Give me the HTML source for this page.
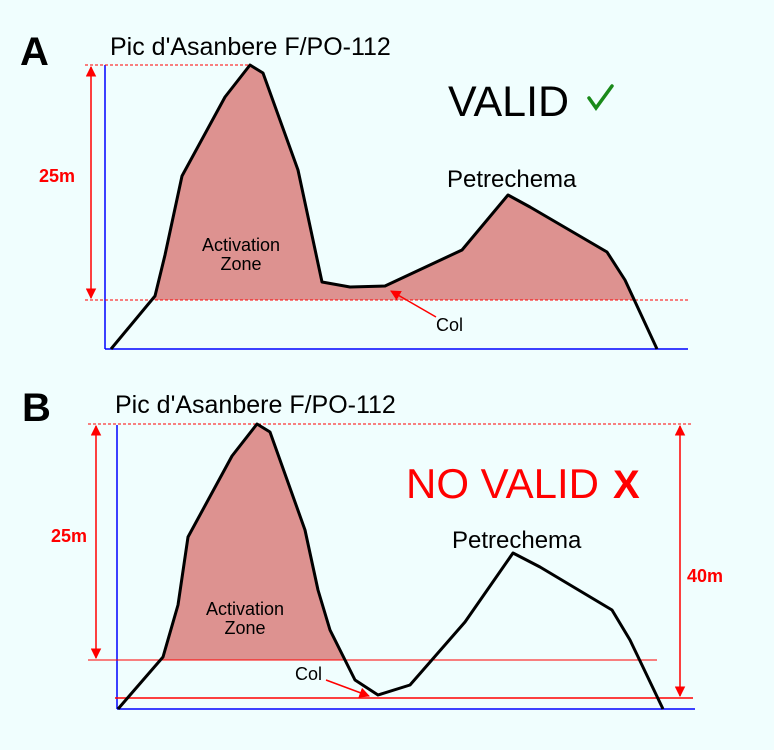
<!DOCTYPE html>
<html><head><meta charset="utf-8"><style>
html,body{margin:0;padding:0;background:#f0fefe;}
svg{display:block;font-family:"Liberation Sans",sans-serif;}
</style></head><body>
<svg id="c" width="774" height="750" viewBox="0 0 774 750">
<defs>
<marker id="ah" viewBox="0 0 10 10" refX="9" refY="5" markerWidth="7" markerHeight="7" orient="auto-start-reverse"><path d="M0,0L10,5L0,10z" fill="#f00"/></marker>
<clipPath id="clipA"><rect x="0" y="0" width="774" height="300"/></clipPath>
<clipPath id="clipB"><rect x="0" y="360" width="370" height="300"/></clipPath>
</defs>
<rect width="774" height="750" fill="#f0fefe"/>
<g id="A"></g>
<g id="B"></g>
</svg>
<script>
const profileAx=[111,155,165,182,225,250,263,298,322,350,385,462,508,530,607,625,657];
const profileAy=[349,296,255,176,97,65,73,170,282,287,286,250,195,207,252,280,349];
const profileBx=[118,163,178,188,232,257,270,305,318,330,355,378,410,465,513,540,612,630,663];
const profileBy=[709,657,605,537,456,424,432,530,590,630,680,695,685,622,553,567,610,640,709];
const NS="http://www.w3.org/2000/svg";
function mk(parent,tag,attrs,text){const e=document.createElementNS(NS,tag);for(const k in attrs)e.setAttribute(k,attrs[k]);if(text!==undefined)e.textContent=text;parent.appendChild(e);return e;}
function pts(xs,ys){return xs.map((x,i)=>x+","+ys[i]).join(" ");}
const A=document.getElementById("A"),B=document.getElementById("B");

let e;
e=mk(A,"polygon",{points:pts(profileAx,profileAy),fill:"#dd9290","clip-path":"url(#clipA)"});

e=mk(A,"line",{x1:105,y1:65,x2:105,y2:349,stroke:"#00f","stroke-width":1.5});

e=mk(A,"line",{x1:105,y1:349,x2:688,y2:349,stroke:"#00f","stroke-width":1.5});

e=mk(A,"line",{x1:85,y1:300,x2:688,y2:300,stroke:"#f00","stroke-width":1,"stroke-dasharray":"3,2"});

e=mk(A,"line",{x1:85,y1:65,x2:250,y2:65,stroke:"#f00","stroke-width":1,"stroke-dasharray":"3,2"});

e=mk(A,"line",{x1:91,y1:67,x2:91,y2:298,stroke:"#f00","stroke-width":1.5,"marker-start":"url(#ah)","marker-end":"url(#ah)"});

e=mk(A,"polyline",{points:pts(profileAx,profileAy),fill:"none",stroke:"#000","stroke-width":3,"stroke-linejoin":"round"});

e=mk(A,"line",{x1:436,y1:317,x2:391,y2:291,stroke:"#f00","stroke-width":1.5,"marker-end":"url(#ah)"});

e=mk(A,"text",{x:20,y:65,"font-size":40,"font-weight":"bold"},"A");

e=mk(A,"text",{x:110,y:55,"font-size":25},"Pic d'Asanbere F/PO-112");

e=mk(A,"text",{x:39,y:182,"font-size":18,"font-weight":"bold",fill:"#f00"},"25m");

e=mk(A,"text",{x:448,y:116,"font-size":43},"VALID");

e=mk(A,"path",{d:"M589,98 L596,108 L612,86",fill:"none",stroke:"#1a8a1a","stroke-width":3.5,"stroke-linecap":"round"});

e=mk(A,"text",{x:447,y:187,"font-size":24},"Petrechema");

e=mk(A,"text",{x:241,y:251,"font-size":18,"text-anchor":"middle"},"Activation");

e=mk(A,"text",{x:241,y:270,"font-size":18,"text-anchor":"middle"},"Zone");

e=mk(A,"text",{x:436,y:331,"font-size":18},"Col");


e=mk(B,"polygon",{points:pts(profileBx,profileBy),fill:"#dd9290","clip-path":"url(#clipB)"});

e=mk(B,"line",{x1:117,y1:425,x2:117,y2:709,stroke:"#00f","stroke-width":1.5});

e=mk(B,"line",{x1:117,y1:709,x2:695,y2:709,stroke:"#00f","stroke-width":1.5});

e=mk(B,"line",{x1:88,y1:424,x2:692,y2:424,stroke:"#f00","stroke-width":1,"stroke-dasharray":"3,2"});

e=mk(B,"line",{x1:88,y1:660,x2:657,y2:660,stroke:"#f00","stroke-width":1});

e=mk(B,"line",{x1:115,y1:698,x2:693,y2:698,stroke:"#f00","stroke-width":1.5});

e=mk(B,"line",{x1:96,y1:426,x2:96,y2:658,stroke:"#f00","stroke-width":1.5,"marker-start":"url(#ah)","marker-end":"url(#ah)"});

e=mk(B,"line",{x1:680,y1:426,x2:680,y2:696,stroke:"#f00","stroke-width":1.5,"marker-start":"url(#ah)","marker-end":"url(#ah)"});

e=mk(B,"polyline",{points:pts(profileBx,profileBy),fill:"none",stroke:"#000","stroke-width":3,"stroke-linejoin":"round"});

e=mk(B,"line",{x1:326,y1:680,x2:369,y2:696,stroke:"#f00","stroke-width":1.5,"marker-end":"url(#ah)"});

e=mk(B,"text",{x:22,y:421,"font-size":40,"font-weight":"bold"},"B");

e=mk(B,"text",{x:115,y:413,"font-size":25},"Pic d'Asanbere F/PO-112");

e=mk(B,"text",{x:51,y:542,"font-size":18,"font-weight":"bold",fill:"#f00"},"25m");

e=mk(B,"text",{x:687,y:582,"font-size":18,"font-weight":"bold",fill:"#f00"},"40m");

e=mk(B,"text",{x:406,y:498,"font-size":42,fill:"#f00"},"NO VALID");

e=mk(B,"text",{x:613,y:498,"font-size":40,"font-weight":"bold",fill:"#f00"},"X");

e=mk(B,"text",{x:452,y:548,"font-size":24},"Petrechema");

e=mk(B,"text",{x:245,y:615,"font-size":18,"text-anchor":"middle"},"Activation");

e=mk(B,"text",{x:245,y:634,"font-size":18,"text-anchor":"middle"},"Zone");

e=mk(B,"text",{x:295,y:680,"font-size":18},"Col");

</script>
</body></html>
